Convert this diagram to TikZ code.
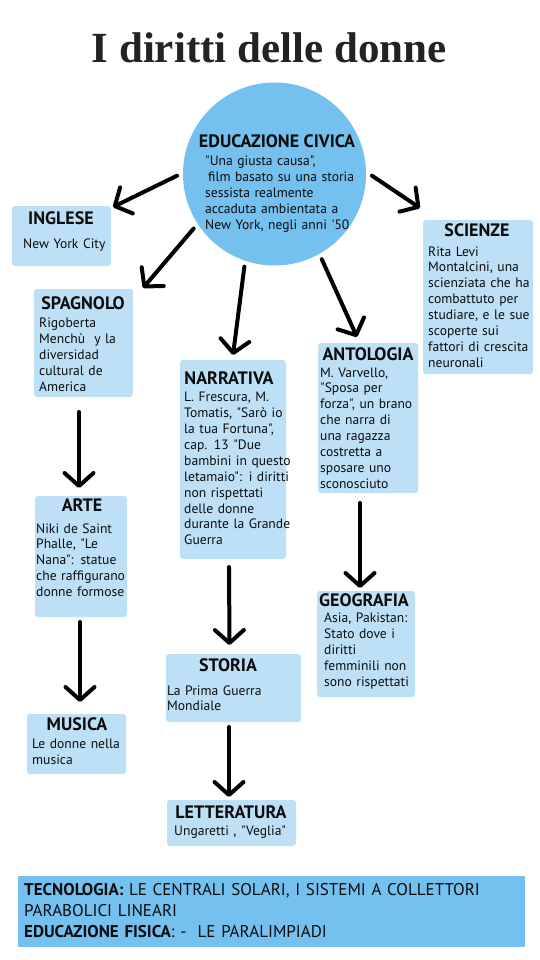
\documentclass[tikz,border=0pt]{standalone}
\usepackage{fontspec}
\setmainfont{PT Sans}[Ligatures=TeXOff]
\newfontfamily\titlefont{Liberation Serif}
\usetikzlibrary{arrows.meta}
\definecolor{boxblue}{HTML}{BEE0F6}
\definecolor{circblue}{HTML}{74C0EE}
\definecolor{barblue}{HTML}{74C1F0}
\definecolor{titlegray}{HTML}{232323}
\definecolor{ink}{HTML}{0C0C0C}
\tikzset{
  box/.style={fill=boxblue, rounded corners=3pt, inner sep=0pt, outer sep=0pt, anchor=north west},
  ttl/.style={anchor=base, inner sep=0pt, text=ink, font=\bfseries\fontsize{18}{21}\selectfont},
  body/.style={anchor=base west, inner sep=0pt, text=ink, text width=200pt, align=left, font=\fontsize{13.6}{15.9}\selectfont},
  arr/.style={line width=4pt, line cap=round, -{Straight Barb[length=13pt,width=29pt,round]}},
}
\begin{document}
\begin{tikzpicture}[x=1pt,y=-1pt]
\useasboundingbox (0,0) rectangle (540,960);
\fill[white] (0,0) rectangle (540,960);

% title
\node[anchor=base, inner sep=0pt, text=titlegray, font=\titlefont\bfseries\fontsize{43}{50}\selectfont] (title) at (269,62.7) {I diritti delle donne};

% central circle
\node[circle, fill=circblue, minimum size=183pt, inner sep=0pt, outer sep=6pt] (circ) at (274.5,174) {};
\node[ttl] (circ-t) at (277,147.3) {EDUCAZIONE CIVICA};
\node[body] (circ-b) at (205,166) {"Una giusta causa",\\\hspace*{3pt}film basato su una storia\\sessista realmente\\accaduta ambientata a\\New York, negli anni '50};

% boxes
\node[box, minimum width=99pt, minimum height=60pt] (ing) at (12,206) {};
\node[ttl] (ing-t) at (61,224.3) {INGLESE};
\node[body] (ing-b) at (23,248) {New York City};

\node[box, minimum width=99pt, minimum height=108pt] (spa) at (34,289) {};
\node[ttl] (spa-t) at (83,309) {SPAGNOLO};
\node[body] (spa-b) at (39,327.5) {Rigoberta\\Mench\`u\ \ y la\\diversidad\\cultural de\\America};

\node[box, minimum width=92pt, minimum height=121pt] (art) at (35,496) {};
\node[ttl] (art-t) at (82,511.7) {ARTE};
\node[body] (art-b) at (36,533) {Niki de Saint\\Phalle, "Le\\Nana": statue\\che raffigurano\\donne formose};

\node[box, minimum width=99pt, minimum height=60pt] (mus) at (27,714) {};
\node[ttl] (mus-t) at (77,730) {MUSICA};
\node[body] (mus-b) at (32,748.3) {Le donne nella\\musica};

\node[box, minimum width=106pt, minimum height=199pt] (nar) at (180,360) {};
\node[ttl] (nar-t) at (229,384.3) {NARRATIVA};
\node[body] (nar-b) at (184,401.7) {L. Frescura, M.\\Tomatis, "Sar\`o io\\la tua Fortuna",\\cap. 13 "Due\\bambini in questo\\letamaio": i diritti\\non rispettati\\delle donne\\durante la Grande\\Guerra};

\node[box, minimum width=135pt, minimum height=68pt] (sto) at (166,654) {};
\node[ttl] (sto-t) at (228,671.7) {STORIA};
\node[body] (sto-b) at (167,695) {La Prima Guerra\\Mondiale};

\node[box, minimum width=129pt, minimum height=46pt] (let) at (167,800) {};
\node[ttl] (let-t) at (231,818.3) {LETTERATURA};
\node[body] (let-b) at (174,835) {Ungaretti , "Veglia"};

\node[box, minimum width=100pt, minimum height=150pt] (ant) at (318,343) {};
\node[ttl] (ant-t) at (368,360) {ANTOLOGIA};
\node[body] (ant-b) at (320,377) {M. Varvello,\\"Sposa per\\forza", un brano\\che narra di\\una ragazza\\costretta a\\sposare uno\\sconosciuto};

\node[box, minimum width=98pt, minimum height=106pt] (geo) at (317,591) {};
\node[ttl] (geo-t) at (364,606.7) {GEOGRAFIA};
\node[body] (geo-b) at (324,622.7) {Asia, Pakistan:\\Stato dove i\\diritti\\femminili non\\sono rispettati};

\node[box, minimum width=110pt, minimum height=154pt] (sci) at (423,220) {};
\node[ttl] (sci-t) at (477,236) {SCIENZE};
\node[body] (sci-b) at (428,256) {Rita Levi\\Montalcini, una\\scienziata che ha\\combattuto per\\studiare, e le sue\\scoperte sui\\fattori di crescita\\neuronali};

% bottom bar
\node[fill=barblue, inner sep=0pt, outer sep=0pt, anchor=north west, minimum width=507pt, minimum height=71pt] (bar) at (18,876) {};
\node[anchor=base west, inner sep=0pt, text=ink, text width=500pt, align=left, font=\fontsize{17}{20.8}\selectfont] (bar-t) at (24,895.5) {\textbf{TECNOLOGIA:} LE CENTRALI SOLARI, I SISTEMI A COLLETTORI\\PARABOLICI LINEARI\\\textbf{EDUCAZIONE FISICA}: -\ \ LE PARALIMPIADI};

% arrows from circle
\draw[arr] (circ.181) -- ([shift={(2,1)}]ing.north east);
\draw[arr] (circ.214) -- ([shift={(10,-1)}]spa.north east);
\draw[arr] (circ.252) -- ([shift={(0,-5)}]nar.north);
\draw[arr] (circ.299) -- ([shift={(-11,-6)}]ant.north);
\draw[arr] (circ.359) -- ([shift={(-3,-12)}]sci.north west);

% vertical arrows
\draw[arr] ([shift={(-4.5,15)}]spa.south) -- ([shift={(-2,-8)}]art.north);
\draw[arr] ([shift={(-1,5)}]art.south) -- ([shift={(3.5,-12)}]mus.north);
\draw[arr] ([shift={(-4,8)}]nar.south) -- ([shift={(-4,-9)}]sto.north);
\draw[arr] ([shift={(-4.5,5)}]sto.south) -- ([shift={(-2.5,-3)}]let.north);
\draw[arr] ([shift={(-8,10)}]ant.south) -- ([shift={(-6,-3)}]geo.north);
\end{tikzpicture}
\end{document}
